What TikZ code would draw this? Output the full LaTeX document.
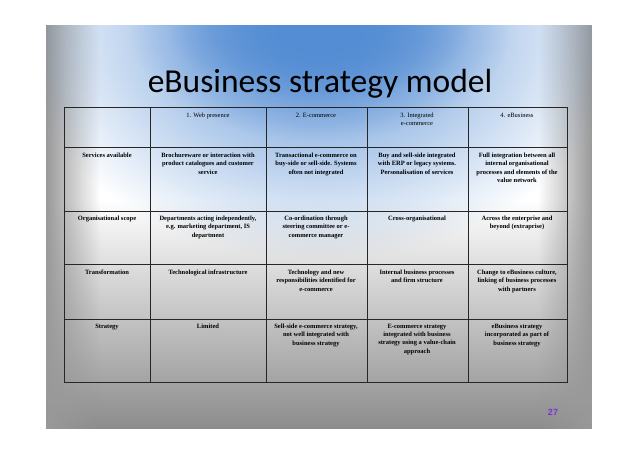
\documentclass[tikz,border=0pt]{standalone}
\usepackage{fontspec}
\setmainfont{Liberation Serif}
\newfontfamily\titlefont{Carlito}
\newfontfamily\numfont{Liberation Sans}
\usetikzlibrary{fadings}
\tikzfading[name=radfade, inner color=transparent!0, outer color=transparent!100]
\tikzfading[name=upfade, bottom color=transparent!0, top color=transparent!100]
\definecolor{slideblue}{RGB}{84,141,212}
\definecolor{numpurple}{RGB}{120,50,220}
\tikzset{
  cell/.style={anchor=north, align=center, font=\bfseries\fontsize{6.5}{8.2}\selectfont, inner sep=0pt},
  hcell/.style={cell, font=\fontsize{6.5}{8.2}\selectfont},
  grid/.style={line width=0.9pt, draw=black!85}
}
\begin{document}
\begin{tikzpicture}[x=1pt,y=-1pt]
\useasboundingbox (0,0) rectangle (638,451);
\fill[white] (0,0) rectangle (638,451);
% slide background
\begin{scope}
\clip (46,25) rectangle (592,429);
\fill[white] (46,25) rectangle (592,429);
\fill[black!45, path fading=upfade] (46,200) rectangle (592,429);
\shade[left color=black!35, right color=black!35, fill opacity=0] (46,25) rectangle (592,429);
\fill[black!40, path fading=east] (46,25) rectangle (100,429);
\fill[black!40, path fading=west] (538,25) rectangle (592,429);
\fill[slideblue, path fading=radfade] (320,30) ellipse (300 and 230);
\fill[slideblue, path fading=radfade] (320,30) ellipse (190 and 110);
\fill[slideblue, path fading=radfade] (320,30) ellipse (150 and 70);
\end{scope}
% title
\node[font=\titlefont\fontsize{33.5}{40}\selectfont, anchor=base] (title) at (320,92) {eBusiness strategy model};
% table grid
\draw[grid] (64,107) rectangle (567,382);
\foreach \x in {150,266,367,468} \draw[grid] (\x,107) -- (\x,382);
\foreach \y in {147,211,264,319} \draw[grid] (64,\y) -- (567,\y);
% header
\node[hcell] (h1) at (208,113) {1. Web presence};
\node[hcell] (h2) at (316,113) {2. E-commerce};
\node[hcell] (h3) at (417,113) {3. Integrated\\e-commerce};
\node[hcell] (h4) at (517,113) {4. eBusiness};
% row 1
\node[cell] (r1a) at (107,153) {Services available};
\node[cell] (r1b) at (208,153) {Brochureware or interaction with\\product catalogues and customer\\service};
\node[cell] (r1c) at (316,153) {Transactional e-commerce on\\buy-side or sell-side. Systems\\often not integrated};
\node[cell] (r1d) at (417,153) {Buy and sell-side integrated\\with ERP or legacy systems.\\Personalisation of services};
\node[cell] (r1e) at (517,153) {Full integration between all\\internal organisational\\processes and elements of the\\value network};
% row 2
\node[cell] (r2a) at (107,216) {Organisational scope};
\node[cell] (r2b) at (208,216) {Departments acting independently,\\e.g. marketing department, IS\\department};
\node[cell] (r2c) at (316,216) {Co-ordination through\\steering committee or e-\\commerce manager};
\node[cell] (r2d) at (417,216) {Cross-organisational};
\node[cell] (r2e) at (517,216) {Across the enterprise and\\beyond (extraprise)};
% row 3
\node[cell] (r3a) at (107,270) {Transformation};
\node[cell] (r3b) at (208,270) {Technological infrastructure};
\node[cell] (r3c) at (316,270) {Technology and new\\responsibilities identified for\\e-commerce};
\node[cell] (r3d) at (417,270) {Internal business processes\\and firm structure};
\node[cell] (r3e) at (517,270) {Change to eBusiness culture,\\linking of business processes\\with partners};
% row 4
\node[cell] (r4a) at (107,324) {Strategy};
\node[cell] (r4b) at (208,324) {Limited};
\node[cell] (r4c) at (316,324) {Sell-side e-commerce strategy,\\not well integrated with\\business strategy};
\node[cell] (r4d) at (417,324) {E-commerce strategy\\integrated with business\\strategy using a value-chain\\approach};
\node[cell] (r4e) at (517,324) {eBusiness strategy\\incorporated as part of\\business strategy};
% page number
\node[font=\numfont\bfseries\fontsize{9}{10}\selectfont, text=numpurple] (num) at (553,412) {27};
\end{tikzpicture}
\end{document}
